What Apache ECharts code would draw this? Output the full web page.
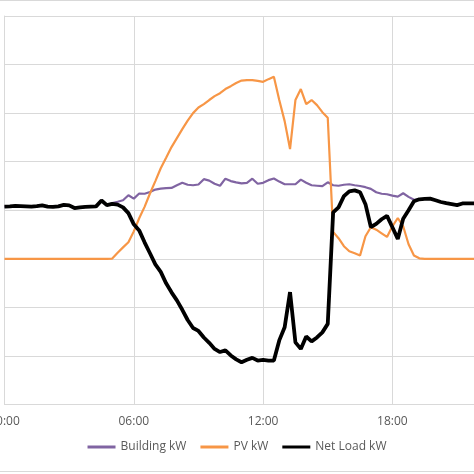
<!DOCTYPE html>
<html>
<head>
<meta charset="utf-8">
<script src="https://cdn.jsdelivr.net/npm/echarts@6/dist/echarts.min.js"></script>
<style>
  html, body { margin: 0; padding: 0; background: #fff; }
  #chart { width: 474px; height: 474px; }
</style>
</head>
<body>
<div id="chart"></div>
<script>
// 15-minute steps, 00:00 .. 24:00 (only up to ~22:00 is visible)
const times = []
for (let m = 0; m <= 24 * 60; m += 15) {
  times.push(String(Math.floor(m / 60)).padStart(2, '0') + ':' + String(m % 60).padStart(2, '0'))
}

const buildingKW = [
  21.5, 21.6, 21.8, 21.7, 21.6, 21.5, 21.7, 22.0, 21.5, 21.4,
  21.6, 22.2, 22.0, 20.9, 21.2, 21.4, 21.5, 21.6, 24.0, 22.1,
  23.0, 23.5, 24.1, 26.2, 24.8, 26.9, 26.8, 27.5, 28.5, 28.9,
  29.1, 29.2, 30.3, 31.3, 30.5, 30.3, 30.6, 32.8, 32.2, 30.9,
  30.1, 33.0, 32.0, 31.5, 31.1, 31.3, 33.0, 30.9, 31.3, 32.4,
  33.1, 31.8, 30.7, 30.7, 30.7, 32.6, 31.3, 30.3, 30.1, 29.9,
  31.5, 30.3, 30.1, 30.5, 30.7, 30.3, 30.0, 29.5, 28.8, 27.4,
  26.8, 26.6, 26.0, 25.6, 27.0, 25.5, 24.3, 24.5, 24.7, 24.8,
  24.1, 23.4, 22.9, 22.5, 22.1, 22.8, 22.8, 22.8, 22.8
]

const pvKW = [
  0, 0, 0, 0, 0, 0, 0, 0, 0, 0,
  0, 0, 0, 0, 0, 0, 0, 0, 0, 0,
  0.1, 2.5, 4.7, 6.8, 11.3, 16.7, 21.4, 26.9, 32.0, 37.3,
  41.6, 46.0, 49.7, 53.4, 56.9, 60.0, 62.3, 63.7, 65.4, 67.0,
  68.2, 69.9, 71.1, 72.4, 73.4, 73.6, 73.6, 73.3, 72.9, 74.0,
  75.0, 65.4, 56.7, 45.2, 65.4, 69.9, 63.7, 65.4, 63.3, 60.4,
  58.1, 11.1, 8.5, 5.2, 3.1, 2.3, 1.4, 9.3, 13.0, 12.0,
  10.5, 9.0, 13.4, 16.8, 13.4, 6.0, 1.4, 0.2, 0, 0,
  0, 0, 0, 0, 0, 0, 0, 0, 0
]

const netLoadKW = [
  21.5, 21.6, 21.8, 21.7, 21.6, 21.5, 21.7, 22.0, 21.5, 21.4,
  21.6, 22.2, 22.0, 20.9, 21.2, 21.4, 21.5, 21.6, 24.0, 22.1,
  22.6, 22.3, 21.2, 18.8, 14.2, 11.7, 6.8, 2.3, -2.3, -5.4,
  -10.1, -13.8, -17.1, -21.0, -25.2, -28.5, -29.7, -32.4, -34.6, -37.1,
  -38.4, -37.7, -39.8, -41.4, -42.6, -41.6, -40.8, -41.9, -41.6, -41.9,
  -41.9, -33.6, -28.2, -13.7, -34.4, -37.1, -32.0, -34.0, -32.4, -30.3,
  -26.8, 19.1, 21.2, 25.8, 27.8, 28.2, 27.4, 22.5, 13.1, 14.4,
  16.3, 17.7, 13.0, 8.2, 16.5, 20.0, 23.7, 24.5, 24.7, 24.8,
  24.1, 23.4, 22.9, 22.5, 22.1, 22.8, 22.8, 22.8, 22.8
]

const gridColor = '#d9d9d9'
const textColor = '#595959'

const chart = echarts.init(document.getElementById('chart'))

chart.setOption({
  animation: false,
  backgroundColor: '#fff',
  textStyle: { fontFamily: 'Open Sans' },
  grid: {
    left: 4.5,
    top: 16,
    bottom: 69.5,
    width: 517.2,
    containLabel: false,
    outerBoundsMode: 'none'
  },
  legend: {
    bottom: 16,
    left: 'center',
    icon: 'rect',
    itemWidth: 28,
    itemHeight: 3,
    itemGap: 14,
    textStyle: { color: textColor, fontSize: 12, fontFamily: 'Open Sans' },
    data: ['Building kW', 'PV kW', 'Net Load kW']
  },
  xAxis: {
    type: 'category',
    data: times,
    boundaryGap: false,
    axisLine: { onZero: false, lineStyle: { color: gridColor, width: 1 } },
    axisTick: { show: false },
    axisLabel: {
      interval: 23,
      margin: 11,
      color: textColor,
      fontSize: 12,
      fontFamily: 'Open Sans',
      showMinLabel: true,
      hideOverlap: false
    },
    splitLine: { show: true, interval: 23, lineStyle: { color: gridColor, width: 1 } }
  },
  yAxis: {
    type: 'value',
    min: -60,
    max: 100,
    interval: 20,
    axisLine: { show: true, lineStyle: { color: gridColor } },
    axisTick: { show: false },
    axisLabel: { show: false },
    splitLine: { lineStyle: { color: gridColor, width: 1 } }
  },
  series: [
    {
      name: 'Building kW',
      type: 'line',
      data: buildingKW,
      showSymbol: false,
      color: '#8064a2',
      lineStyle: { color: '#8064a2', width: 2.2 },
      z: 2
    },
    {
      name: 'PV kW',
      type: 'line',
      data: pvKW,
      showSymbol: false,
      color: '#f79646',
      lineStyle: { color: '#f79646', width: 2.2 },
      z: 3
    },
    {
      name: 'Net Load kW',
      type: 'line',
      data: netLoadKW,
      showSymbol: false,
      color: '#000000',
      lineStyle: { color: '#000000', width: 3.8 },
      z: 4
    }
  ],
  graphic: [
    {
      type: 'rect',
      silent: true,
      shape: { x: -2, y: 0.5, width: 478, height: 471 },
      style: { fill: 'none', stroke: '#d9d9d9', lineWidth: 1 }
    }
  ]
})
</script>
</body>
</html>
